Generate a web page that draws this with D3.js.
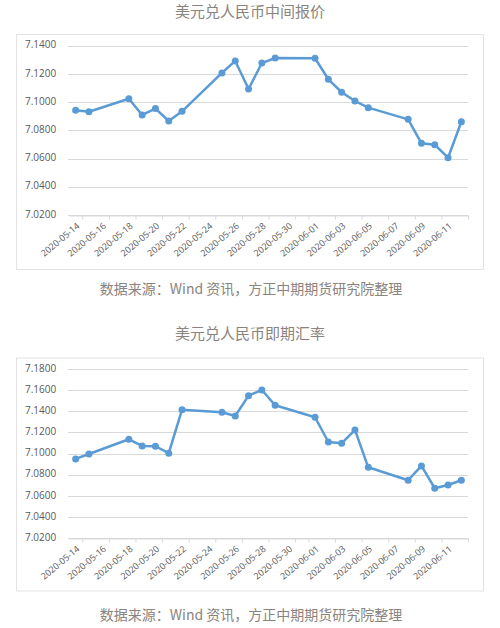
<!DOCTYPE html>
<html>
<head>
<meta charset="utf-8">
<script src="https://cdn.jsdelivr.net/npm/d3@7"></script>
<style>
  html, body { margin: 0; padding: 0; background: #ffffff; }
  svg { display: block; }
</style>
</head>
<body>
<svg id="chart" width="500" height="628"></svg>
<script>
// ---------- data ----------
const dates = [
  "2020-05-14","2020-05-15","2020-05-18","2020-05-19","2020-05-20","2020-05-21","2020-05-22",
  "2020-05-25","2020-05-26","2020-05-27","2020-05-28","2020-05-29",
  "2020-06-01","2020-06-02","2020-06-03","2020-06-04","2020-06-05",
  "2020-06-08","2020-06-09","2020-06-10","2020-06-11","2020-06-12"
];
const midRate = [
  7.0942, 7.0932, 7.1024, 7.0909, 7.0954, 7.0866, 7.0935,
  7.1207, 7.1292, 7.1093, 7.1277, 7.1313,
  7.1311, 7.1162, 7.1070, 7.1008, 7.0961,
  7.0878, 7.0708, 7.0698, 7.0606, 7.0861
];
const spotRate = [
  7.0950, 7.0997, 7.1136, 7.1073, 7.1070, 7.1004, 7.1415,
  7.1391, 7.1356, 7.1548, 7.1602, 7.1457,
  7.1344, 7.1110, 7.1098, 7.1224, 7.0871,
  7.0749, 7.0884, 7.0673, 7.0704, 7.0749
];
const yTicks1 = [7.02, 7.04, 7.06, 7.08, 7.10, 7.12, 7.14];
const yTicks2 = [7.02, 7.04, 7.06, 7.08, 7.10, 7.12, 7.14, 7.16, 7.18];
const xTickLabels = [
  "2020-05-14","2020-05-16","2020-05-18","2020-05-20","2020-05-22","2020-05-24","2020-05-26",
  "2020-05-28","2020-05-30","2020-06-01","2020-06-03","2020-06-05","2020-06-07","2020-06-09","2020-06-11"
];
const xDomain = ["2020-05-14", "2020-06-13"];
const titles = ["美元兑人民币中间报价", "美元兑人民币即期汇率"];
const sourceText = "数据来源：Wind 资讯，方正中期期货研究院整理";

// ---------- drawing ----------
const svg = d3.select("#chart");
const parse = d3.utcParse("%Y-%m-%d");
const HALF_DAY = 12 * 3600 * 1000;
const lineColor = "#5b9bd5";
const gridColor = "#d9d9d9";
const textColor = "#595959";
const titleColor = "#8a847e";
const cjkFont = "'Noto Sans CJK SC', 'Noto Sans', sans-serif";
const numFont = "'Open Sans', 'DejaVu Sans', sans-serif";

function drawPanel(cfg) {
  const g = svg.append("g");

  // title
  g.append("text")
    .attr("x", 250).attr("y", cfg.titleY)
    .attr("text-anchor", "middle")
    .attr("dominant-baseline", "middle")
    .style("font-family", cjkFont)
    .style("font-size", "15px")
    .style("fill", titleColor)
    .text(cfg.title);

  // frame
  g.append("rect")
    .attr("x", 16.5).attr("y", cfg.boxTop + 0.5)
    .attr("width", 467).attr("height", cfg.boxHeight)
    .attr("fill", "#fff")
    .attr("stroke", "#e3e3e3");

  const x = d3.scaleUtc()
    .domain(xDomain.map(parse))
    .range([69, 468]);
  const y = d3.scaleLinear()
    .domain([cfg.yTicks[0], cfg.yTicks[cfg.yTicks.length - 1]])
    .range([cfg.yBottom, cfg.yTop]);

  // gridlines
  g.append("g")
    .selectAll("line")
    .data(cfg.yTicks)
    .join("line")
    .attr("x1", 68).attr("x2", 468)
    .attr("y1", d => Math.round(y(d)) + 0.5)
    .attr("y2", d => Math.round(y(d)) + 0.5)
    .attr("stroke", gridColor)
    .attr("stroke-width", 1);

  // y labels
  g.append("g")
    .selectAll("text")
    .data(cfg.yTicks)
    .join("text")
    .attr("x", 25)
    .attr("y", d => y(d))
    .attr("dominant-baseline", "middle")
    .style("font-family", numFont)
    .style("font-size", "10px")
    .style("fill", textColor)
    .text(d => d3.format(".4f")(d));

  // x tick marks (every 2 days on slot boundaries)
  const tickDates = d3.utcDay.every(2).range(parse(xDomain[0]), d3.utcDay.offset(parse(xDomain[1]), 1));
  const axisY = Math.round(cfg.yBottom) + 0.5;
  const tickAxis = d3.axisBottom(x)
    .tickValues(tickDates)
    .tickSize(4)
    .tickSizeOuter(0)
    .tickFormat("");
  const ta = g.append("g")
    .attr("transform", `translate(0,${axisY})`)
    .call(tickAxis);
  ta.select(".domain").attr("stroke", gridColor);
  ta.selectAll(".tick line").attr("stroke", gridColor);

  // x labels centered on day slots
  const labelAxis = d3.axisBottom(x)
    .tickValues(xTickLabels.map(s => new Date(parse(s).getTime() + HALF_DAY)))
    .tickSize(0)
    .tickFormat(d3.utcFormat("%Y-%m-%d"));
  const la = g.append("g")
    .attr("transform", `translate(0,${axisY})`)
    .call(labelAxis);
  la.select(".domain").remove();
  la.selectAll("text")
    .style("font-family", numFont)
    .style("font-size", "9px")
    .style("fill", textColor)
    .attr("text-anchor", "end")
    .attr("dy", "0.35em")
    .attr("y", 0)
    .attr("transform", "translate(2,9) rotate(-40)");

  // line + markers
  const pts = dates.map((d, i) => ({ t: new Date(parse(d).getTime() + HALF_DAY), v: cfg.values[i] }));
  const line = d3.line().x(d => x(d.t)).y(d => y(d.v));
  g.append("path")
    .datum(pts)
    .attr("d", line)
    .attr("fill", "none")
    .attr("stroke", lineColor)
    .attr("stroke-width", 2.5)
    .attr("stroke-linejoin", "round");
  g.append("g")
    .selectAll("circle")
    .data(pts)
    .join("circle")
    .attr("cx", d => x(d.t))
    .attr("cy", d => y(d.v))
    .attr("r", 3.5)
    .attr("fill", lineColor);

  // source note
  g.append("text")
    .attr("x", 251).attr("y", cfg.sourceY)
    .attr("text-anchor", "middle")
    .attr("dominant-baseline", "middle")
    .style("font-family", cjkFont)
    .style("font-size", "14px")
    .style("fill", titleColor)
    .text(sourceText);
}

drawPanel({
  title: titles[0], titleY: 13, boxTop: 34, boxHeight: 235,
  yTicks: yTicks1, yTop: 45.7, yBottom: 215,
  values: midRate, sourceY: 290
});
drawPanel({
  title: titles[1], titleY: 335, boxTop: 357.5, boxHeight: 233,
  yTicks: yTicks2, yTop: 369, yBottom: 538.3,
  values: spotRate, sourceY: 616
});
</script>
</body>
</html>
